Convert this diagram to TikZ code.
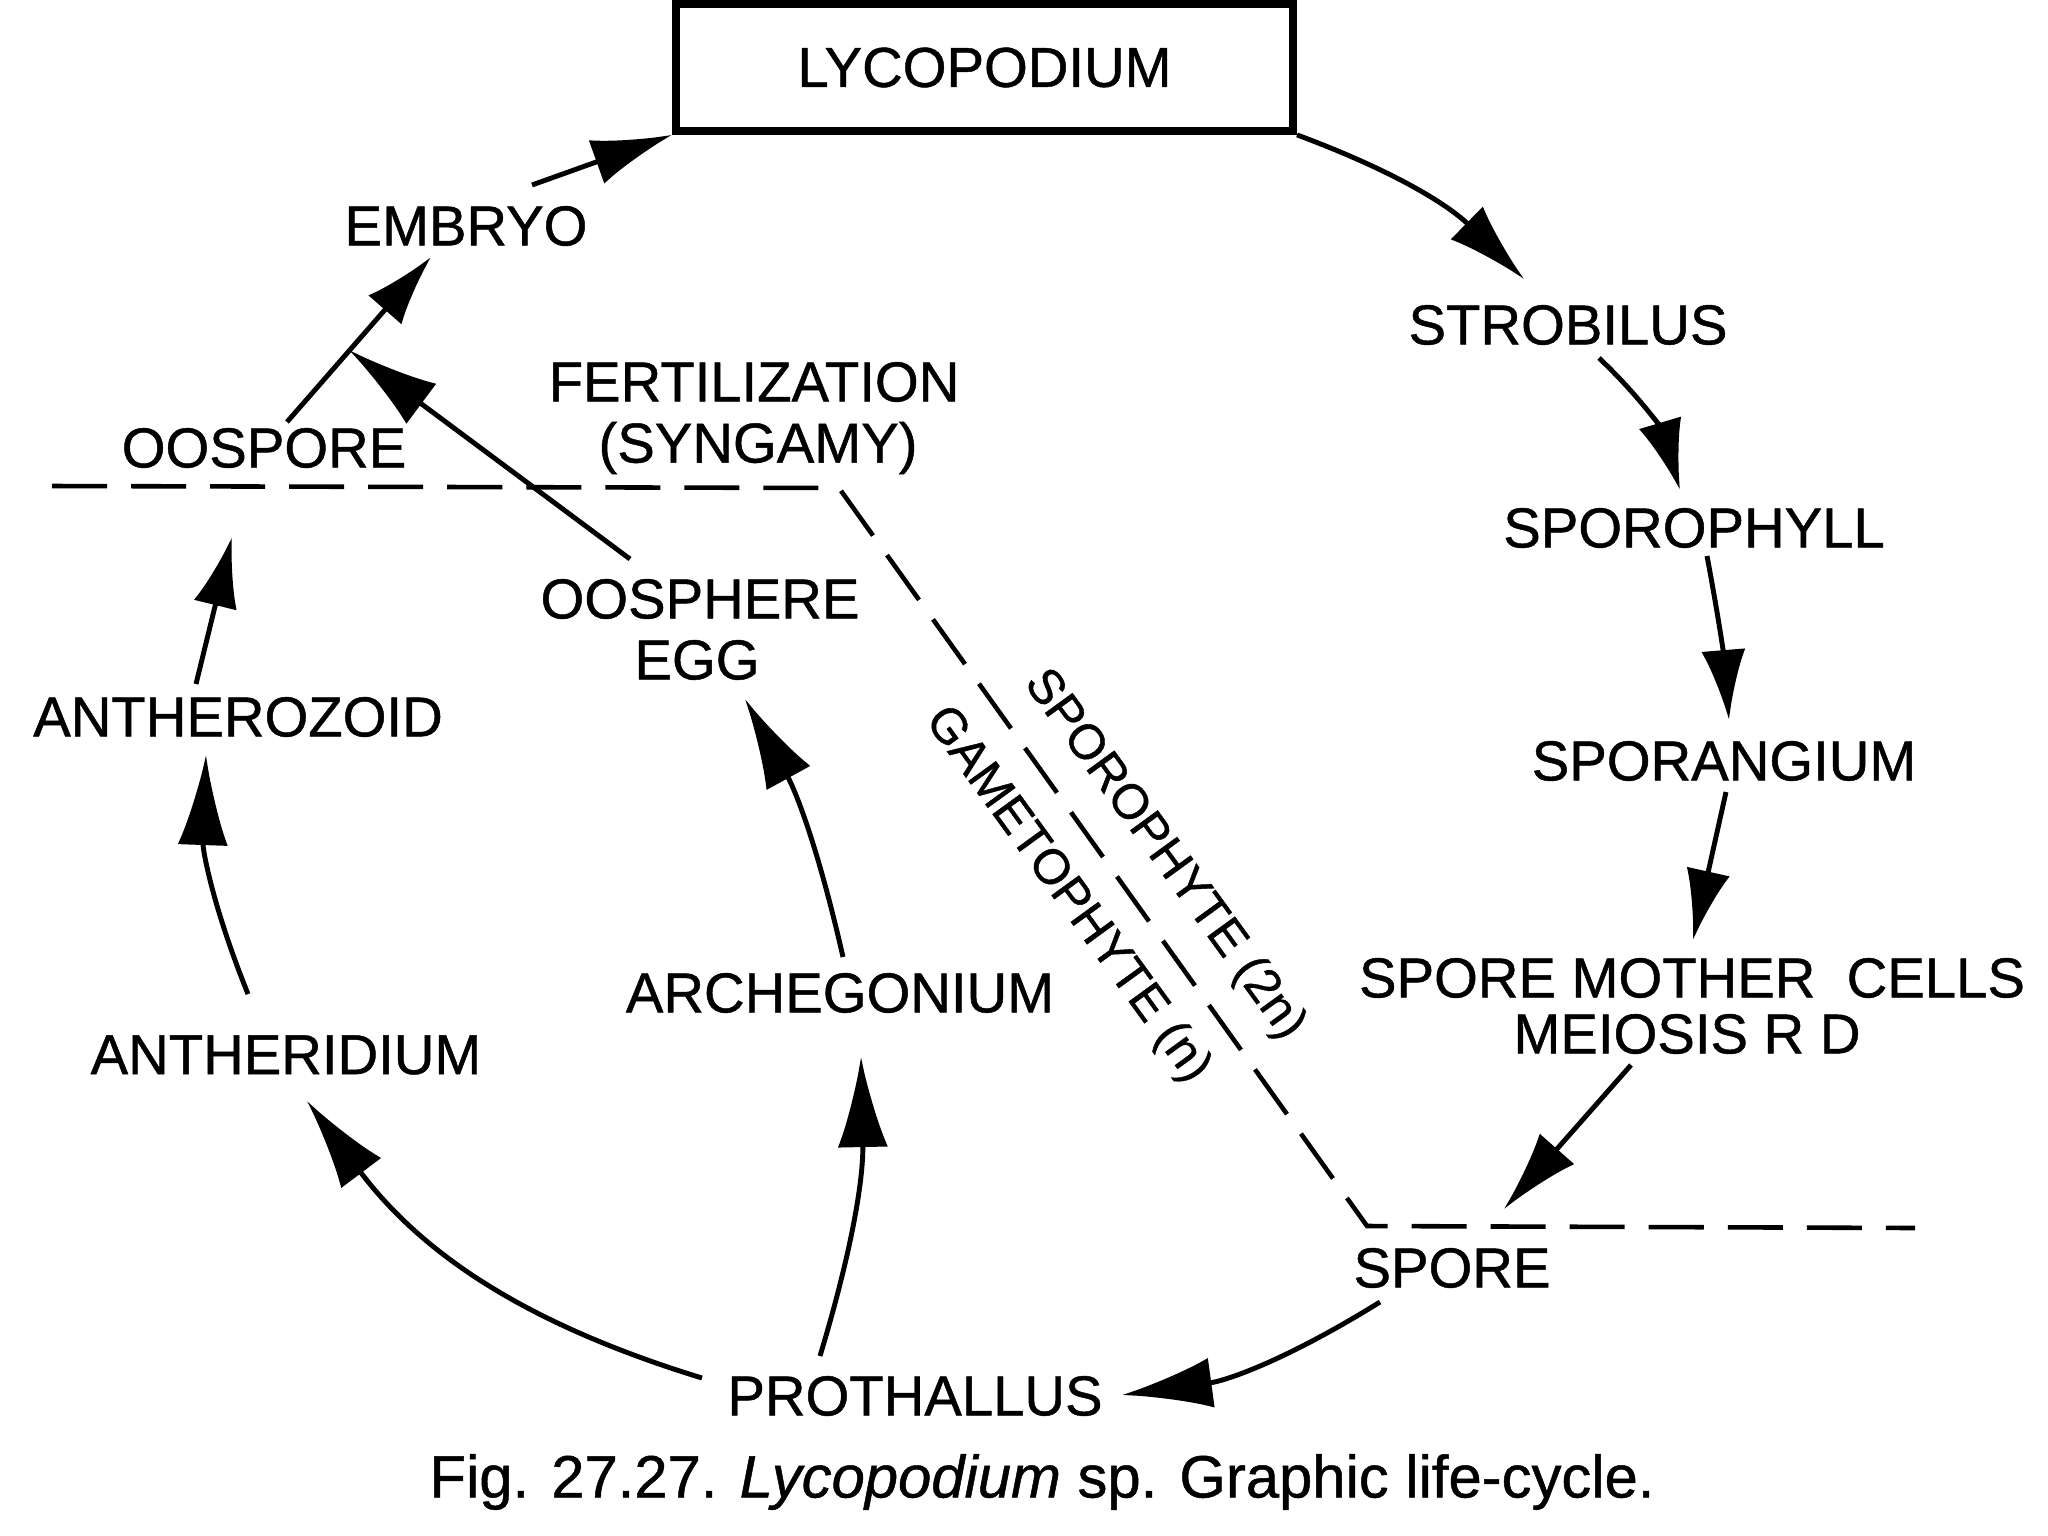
\documentclass[tikz,border=0pt]{standalone}
\usepackage{fontspec}
\setmainfont{Liberation Sans}[RawFeature={embolden=0.8}]
\usetikzlibrary{arrows.meta}
\begin{document}
\begin{tikzpicture}[x=0.01cm,y=-0.01cm,
  lbl/.style={font=\fontsize{16}{19}\selectfont, inner sep=2pt},
  arr/.style={line width=1.4pt, -{Latex[length=7mm,width=4.4mm]}},
  arrmid/.style={line width=1.4pt, -{Latex[length=8mm,width=4.6mm]}},
  arrbig/.style={line width=1.4pt, -{Latex[length=9mm,width=5mm]}},
  dline/.style={line width=1.3pt, dash pattern=on 5.5mm off 2.4mm},
  rot/.style={font=\fontsize{14}{17}\selectfont, rotate=-54},
  boxst/.style={draw, line width=2.2pt, minimum width=6.17cm, minimum height=1.27cm, font=\fontsize{16}{19}\selectfont},
  capst/.style={font=\fontsize{17}{20}\selectfont}
]
\useasboundingbox (0,0) rectangle (2048,1536);
% nodes
\node[boxst] (box) at (984.5,67.5) {LYCOPODIUM};
\node[lbl] (embryo) at (466,226) {EMBRYO};
\node[lbl] (strob) at (1568,325) {STROBILUS};
\node[lbl] (sporophyll) at (1694,528) {SPOROPHYLL};
\node[lbl] (sporang) at (1724,761) {SPORANGIUM};
\node[lbl] (smc) at (1692,978) {SPORE MOTHER\ \ CELLS};
\node[lbl] (meiosis) at (1687,1034) {MEIOSIS R D};
\node[lbl] (spore) at (1452,1268) {SPORE};
\node[lbl] (proth) at (915,1396) {PROTHALLUS};
\node[lbl] (anther) at (286,1055) {ANTHERIDIUM};
\node[lbl] (arche) at (840,993) {ARCHEGONIUM};
\node[lbl] (antzoid) at (238,717) {ANTHEROZOID};
\node[lbl] (oospore) at (264,448) {OOSPORE};
\node[lbl] (oosphere) at (700,599) {OOSPHERE};
\node[lbl] (egg) at (697,660) {EGG};
\node[lbl] (fert) at (754,382) {FERTILIZATION};
\node[lbl] (syng) at (758,448) {(SYNGAMY)};
\node[rot] (sporo) at (1164,855) {SPOROPHYTE (2n)};
\node[rot] (gameto) at (1067,895) {GAMETOPHYTE (n)};
\node[capst] (caption) at (1042,1482) {Fig. 27.27. \textit{Lycopodium} sp. Graphic life-cycle.};
\coordinate (zoidtip) at (232,537);
\coordinate (join) at (349,350);
% dashed boundary
\draw[dline] (52,486) -- (839,488) -- (1367,1226) -- (1915,1228);
% connectors
\draw[arrmid] ([shift={(66,-41)}]embryo.center) -- (box.south west);
\draw[arrmid] (box.south east) to[bend left=12] ([shift={(-44,-46)}]strob.center);
\draw[arr] ([shift={(31,33)}]strob.center) to[bend left=15] ([shift={(-14,-38)}]sporophyll.center);
\draw[arr] ([shift={(13,28)}]sporophyll.center) to[bend left=3] ([shift={(5,-41)}]sporang.center);
\draw[arr] ([shift={(2,31)}]sporang.center) -- ([shift={(1,-38)}]smc.center);
\draw[arrmid] ([shift={(-56,31)}]meiosis.center) -- ([shift={(52,-59)}]spore.center);
\draw[arrbig] ([shift={(-72,34)}]spore.center) to[bend left=12] ([shift={(207,-1)}]proth.center);
\draw[arrbig] ([shift={(-213,-18)}]proth.center) to[bend left=18] ([shift={(21,46)}]anther.center);
\draw[arrbig] ([shift={(-95,-40)}]proth.center) to[bend right=9] ([shift={(21,64)}]arche.center);
\draw[arrbig] ([shift={(3,-36)}]arche.center) to[bend right=8] ([shift={(48,39)}]egg.center);
\draw[arrbig] ([shift={(-38,-61)}]anther.center) to[bend left=12] ([shift={(-32,38)}]antzoid.center);
\draw[arr] ([shift={(-42,-33)}]antzoid.center) -- (zoidtip);
\draw[arr] ([shift={(23,-26)}]oospore.center) -- ([shift={(-35,31)}]embryo.center);
\draw[arrbig] ([shift={(-70,-40)}]oosphere.center) -- (join);
\end{tikzpicture}
\end{document}
